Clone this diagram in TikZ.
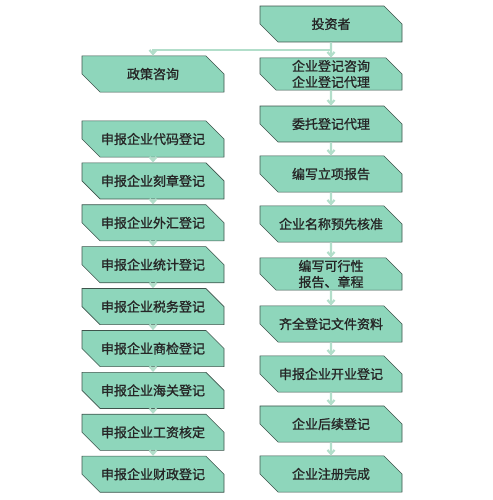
\documentclass[tikz,border=0pt]{standalone}
\usepackage{fontspec}
\newfontfamily\cjk{Noto Sans CJK SC}[FakeBold=1.3]
\usetikzlibrary{positioning,shapes.misc,arrows.meta}
\definecolor{boxfill}{RGB}{142,214,187}
\definecolor{boxline}{RGB}{62,84,76}
\definecolor{linkcol}{RGB}{178,222,202}
\begin{document}
\begin{tikzpicture}[x=1pt,y=-1pt,node distance=50pt,
      main node/.style={chamfered rectangle,chamfered rectangle corners={north east,south west},
        chamfered rectangle xsep=11pt,chamfered rectangle ysep=11pt,
        fill=boxfill,draw=boxline,line width=0.6pt,minimum width=142pt,minimum height=32pt,
        inner sep=1pt,align=center,font=\cjk\fontsize{13}{16}\selectfont,text=black!85},
      two lines/.style={inner ysep=-9pt},
      link/.style={draw=linkcol,line width=2.2pt,-{Straight Barb[length=4pt,width=7pt]}}]
  \useasboundingbox (0,0) rectangle (492,500);

  % right column
  \node[main node] (inv) at (331,24) {投资者};
  \node[main node,two lines] (consult) [below of=inv] {企业登记咨询\\企业登记代理};
  \node[main node] (agent) [below of=consult] {委托登记代理};
  \node[main node] (report) [below of=agent] {编写立项报告};
  \node[main node] (name) [below of=report] {企业名称预先核准};
  \node[main node,two lines] (study) [below of=name] {编写可行性\\报告、章程};
  \node[main node] (docs) [below of=study] {齐全登记文件资料};
  \node[main node] (open) [below of=docs] {申报企业开业登记};
  \node[main node] (follow) [below of=open] {企业后续登记};
  \node[main node] (done) [below of=follow] {企业注册完成};

  % left column
  \node[main node] (policy) at (153,74) {政策咨询};
  \begin{scope}[node distance=41.9pt]
    \node[main node] (code) at (153,139) {申报企业代码登记};
    \node[main node] (seal) [below of=code] {申报企业刻章登记};
    \node[main node] (forex) [below of=seal] {申报企业外汇登记};
    \node[main node] (stat) [below of=forex] {申报企业统计登记};
    \node[main node] (tax) [below of=stat] {申报企业税务登记};
    \node[main node] (inspect) [below of=tax] {申报企业商检登记};
    \node[main node] (customs) [below of=inspect] {申报企业海关登记};
    \node[main node] (wage) [below of=customs] {申报企业工资核定};
    \node[main node] (finance) [below of=wage] {申报企业财政登记};
  \end{scope}

  \coordinate[below=8pt of inv] (fork);

  \path[link]
    (inv) edge (consult)
    (consult) edge (agent)
    (agent) edge (report)
    (report) edge (name)
    (name) edge (study)
    (study) edge (docs)
    (docs) edge (open)
    (open) edge (follow)
    (follow) edge (done)
    (code) edge (seal)
    (seal) edge (forex)
    (forex) edge (stat)
    (stat) edge (tax)
    (tax) edge (inspect)
    (inspect) edge (customs)
    (customs) edge (wage)
    (wage) edge (finance);
  \draw[link] (fork) -| (policy);
\end{tikzpicture}
\end{document}
